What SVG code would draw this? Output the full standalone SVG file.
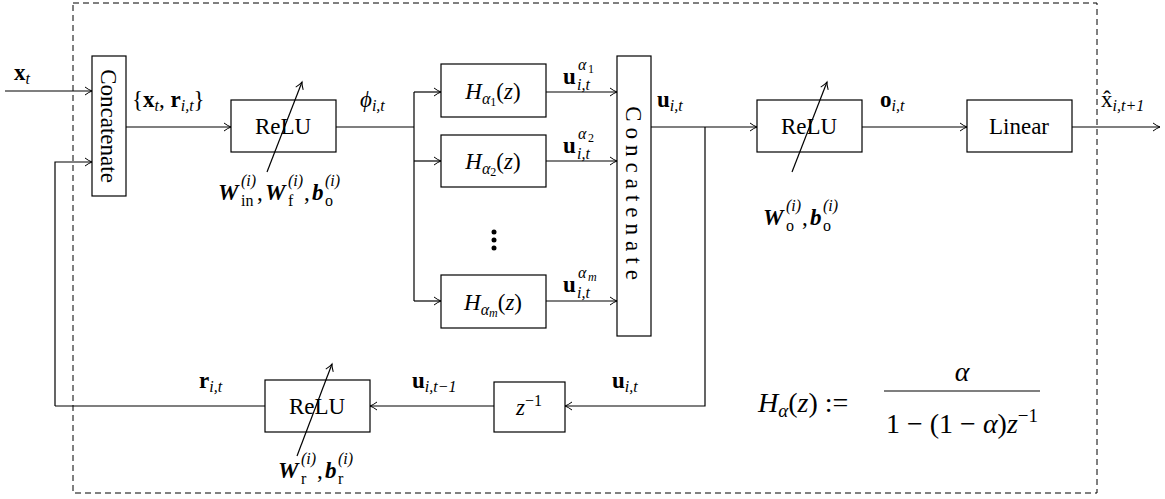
<svg xmlns="http://www.w3.org/2000/svg" width="1165" height="499" viewBox="0 0 1165 499">
<defs><marker id="a" markerWidth="10" markerHeight="10" refX="8" refY="5" orient="auto" markerUnits="userSpaceOnUse"><path d="M1,1 Q5,4 8,5 Q5,6 1,9" fill="none" stroke="#000" stroke-width="1"/></marker></defs>
<style>
.b{fill:#fff;stroke:#000;stroke-width:1.2}
.l{fill:none;stroke:#000;stroke-width:1.2}
text{font-family:"Liberation Serif",serif;fill:#000}
.m{font-size:23px}
.i{font-style:italic}
.bd{font-weight:bold}
.s{font-size:16px}
.t{font-size:12px}
.f{font-size:28px}
.fs{font-size:19px}
</style>
<rect x="73" y="3" width="1024" height="490" fill="none" stroke="#000" stroke-dasharray="6,4"/>
<g id="concat1"><rect class="b" x="92" y="56" width="34" height="140"/><text class="m" transform="translate(101,126) rotate(90)" text-anchor="middle">Concatenate</text></g>
<g id="relu1"><rect class="b" x="231" y="100" width="105" height="52"/><text class="m" x="283" y="134" text-anchor="middle">ReLU</text></g>
<g id="h1"><rect class="b" x="441" y="64" width="105" height="53"/><text class="m" x="493" y="99" text-anchor="middle"><tspan class="i">H</tspan><tspan class="i s" dy="5">α</tspan><tspan class="t" dy="2">1</tspan><tspan dy="-7">(</tspan><tspan class="i">z</tspan>)</text></g>
<g id="h2"><rect class="b" x="441" y="135" width="105" height="52"/><text class="m" x="493" y="169" text-anchor="middle"><tspan class="i">H</tspan><tspan class="i s" dy="5">α</tspan><tspan class="t" dy="2">2</tspan><tspan dy="-7">(</tspan><tspan class="i">z</tspan>)</text></g>
<g id="hm"><rect class="b" x="441" y="275" width="105" height="53"/><text class="m" x="493" y="310" text-anchor="middle"><tspan class="i">H</tspan><tspan class="i s" dy="5">α</tspan><tspan class="i t" dy="2">m</tspan><tspan dy="-7">(</tspan><tspan class="i">z</tspan>)</text></g>
<g id="dots"><circle cx="494" cy="232" r="2.5"/><circle cx="494" cy="240" r="2.5"/><circle cx="494" cy="248" r="2.5"/></g>
<g id="concat2"><rect class="b" x="617" y="56" width="34" height="280"/><text class="m" transform="translate(626,196) rotate(90)" text-anchor="middle" letter-spacing="6">Concatenate</text></g>
<g id="relu2"><rect class="b" x="757" y="100" width="105" height="52"/><text class="m" x="809" y="134" text-anchor="middle">ReLU</text></g>
<g id="linear"><rect class="b" x="967" y="100" width="105" height="52"/><text class="m" x="1019" y="134" text-anchor="middle">Linear</text></g>
<g id="zinv"><rect class="b" x="494" y="382" width="71" height="50"/><text class="m" x="529" y="415" text-anchor="middle"><tspan class="i">z</tspan><tspan class="s" dy="-9">−1</tspan></text></g>
<g id="relu3"><rect class="b" x="265" y="380" width="105" height="52"/><text class="m" x="317" y="414" text-anchor="middle">ReLU</text></g>
<g id="connectors">
<path class="l" d="M5,91 H92" marker-end="url(#a)"/>
<path class="l" d="M126,127 H231" marker-end="url(#a)"/>
<path class="l" d="M55,406 V162 H92" marker-end="url(#a)"/>
<path class="l" d="M336,127 H414"/>
<path class="l" d="M414,92 V301"/>
<path class="l" d="M414,92 H441" marker-end="url(#a)"/>
<path class="l" d="M414,161 H441" marker-end="url(#a)"/>
<path class="l" d="M414,301 H441" marker-end="url(#a)"/>
<path class="l" d="M546,92 H617" marker-end="url(#a)"/>
<path class="l" d="M546,161 H617" marker-end="url(#a)"/>
<path class="l" d="M546,301 H617" marker-end="url(#a)"/>
<path class="l" d="M651,127 H757" marker-end="url(#a)"/>
<path class="l" d="M705,127 V406 H565" marker-end="url(#a)"/>
<path class="l" d="M494,406 H370" marker-end="url(#a)"/>
<path class="l" d="M265,406 H55"/>
<path class="l" d="M862,127 H967" marker-end="url(#a)"/>
<path class="l" d="M1072,127 H1160" marker-end="url(#a)"/>
<path class="l" d="M267,172 L302,82" marker-end="url(#a)"/>
<path class="l" d="M792,172 L827,82" marker-end="url(#a)"/>
<path class="l" d="M297,456 L332,364" marker-end="url(#a)"/>
</g>
<g id="labels">
<text class="m bd" x="14" y="80">x<tspan class="i s" font-weight="normal" dy="4">t</tspan></text>
<text class="m" x="132" y="107">{<tspan class="bd">x</tspan><tspan class="i s" dy="4">t</tspan><tspan dy="-4">, </tspan><tspan class="bd">r</tspan><tspan class="i s" dy="4">i,t</tspan><tspan dy="-4">}</tspan></text>
<text class="m i" x="360" y="107">ϕ<tspan class="s" dy="4">i,t</tspan></text>
<text class="m i bd" x="218" y="200">W</text><text class="s" x="241" y="206">in</text><text class="s i" x="241" y="186">(i)</text>
<text class="m" x="257" y="200">,</text>
<text class="m i bd" x="265" y="200">W</text><text class="s" x="288" y="206">f</text><text class="s i" x="288" y="186">(i)</text>
<text class="m" x="304" y="200">,</text>
<text class="m i bd" x="312" y="200">b</text><text class="s" x="325" y="206">o</text><text class="s i" x="325" y="186">(i)</text>
<text class="m bd" x="563" y="84">u</text><text class="s i" x="577" y="90">i,t</text><text class="s i" x="578" y="70">α</text><text class="t" x="588" y="73">1</text>
<text class="m bd" x="563" y="153">u</text><text class="s i" x="577" y="159">i,t</text><text class="s i" x="578" y="139">α</text><text class="t" x="588" y="142">2</text>
<text class="m bd" x="563" y="292">u</text><text class="s i" x="577" y="298">i,t</text><text class="s i" x="578" y="278">α</text><text class="t i" x="588" y="281">m</text>
<text class="m bd" x="657" y="107">u<tspan class="i s" font-weight="normal" dy="4">i,t</tspan></text>
<text class="m bd" x="880" y="107">o<tspan class="i s" font-weight="normal" dy="4">i,t</tspan></text>
<text class="m" x="1101" y="107">x̂<tspan class="i s" dy="4">i,t+1</tspan></text>
<text class="m i bd" x="763" y="225">W</text><text class="s" x="786" y="231">o</text><text class="s i" x="786" y="211">(i)</text>
<text class="m" x="802" y="225">,</text>
<text class="m i bd" x="810" y="225">b</text><text class="s" x="823" y="231">o</text><text class="s i" x="823" y="211">(i)</text>
<text class="m bd" x="199" y="388">r<tspan class="i s" font-weight="normal" dy="4">i,t</tspan></text>
<text class="m bd" x="412" y="388">u<tspan class="i s" font-weight="normal" dy="4">i,t−1</tspan></text>
<text class="m bd" x="612" y="388">u<tspan class="i s" font-weight="normal" dy="4">i,t</tspan></text>
<text class="m i bd" x="278" y="478">W</text><text class="s" x="301" y="484">r</text><text class="s i" x="301" y="464">(i)</text>
<text class="m" x="317" y="478">,</text>
<text class="m i bd" x="325" y="478">b</text><text class="s" x="338" y="484">r</text><text class="s i" x="338" y="464">(i)</text>
<g id="formula">
<text class="f" x="758" y="412"><tspan class="i">H</tspan><tspan class="i fs" dy="5">α</tspan><tspan dy="-5">(</tspan><tspan class="i">z</tspan>) :=</text>
<text class="f i" x="962" y="381" text-anchor="middle">α</text>
<line x1="884" y1="391" x2="1040" y2="391" stroke="#000" stroke-width="1.2"/>
<text class="f" x="962" y="433" text-anchor="middle">1 − (1 − <tspan class="i">α</tspan>)<tspan class="i">z</tspan><tspan class="fs" dy="-11">−1</tspan></text>
</g>
</g>
</svg>
